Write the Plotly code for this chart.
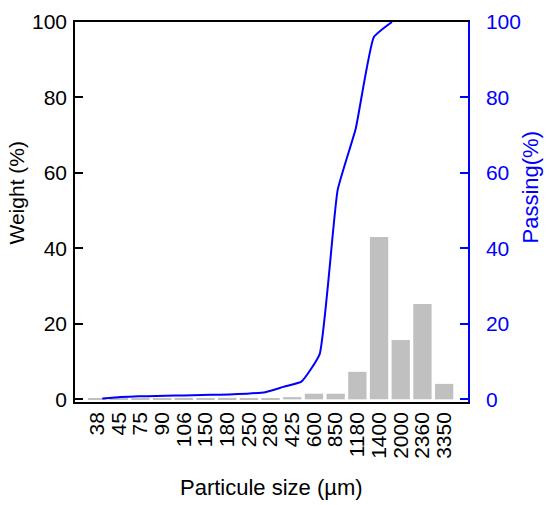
import plotly.graph_objects as go

# sieve sizes (µm) and values
sizes = ["38", "45", "75", "90", "106", "150", "180", "250", "280",
         "425", "600", "850", "1180", "1400", "2000", "2360", "3350"]
weight = [0.3, 0.3, 0.3, 0.3, 0.4, 0.3, 0.4, 0.3, 0.3,
          0.6, 1.5, 1.5, 7.3, 43.0, 15.7, 25.3, 4.1]
passing = [0.2, 0.6, 0.8, 0.9, 1.0, 1.1, 1.2, 1.3, 1.5,
           1.9, 3.3, 4.7, 11.9, 55.5, 71.8, 96.0, 100]

yticks = [0, 20, 40, 60, 80, 100]

font = "Arial, Liberation Sans, sans-serif"
blue = "#0000ff"

fig = go.Figure()
fig.add_trace(go.Bar(x=sizes, y=weight, marker=dict(color="#c0c0c0", line=dict(width=0)),
                     xaxis="x", yaxis="y", showlegend=False))
fig.add_trace(go.Scatter(x=sizes, y=passing, mode="lines",
                         line=dict(color=blue, width=2, shape="spline", smoothing=0.4),
                         xaxis="x2", yaxis="y2", showlegend=False))

fig.update_layout(
    width=550, height=505,
    margin=dict(l=75, r=82, t=22, b=103),
    paper_bgcolor="white", plot_bgcolor="white",
    font=dict(family=font, size=21, color="black"),
    bargap=0.155,
    xaxis=dict(type="category", range=[-1.015, 17.1], tickangle=-90,
               tickmode="array", tickvals=sizes, automargin=False,
               showline=True, linecolor="black", linewidth=1.5, mirror=True,
               ticks="", showgrid=False, zeroline=False),
    xaxis2=dict(type="category", overlaying="x", anchor="y2", range=[-1.51, 20.2],
                visible=False, categoryarray=sizes),
    yaxis=dict(range=[-0.7, 100], tickvals=yticks, ticks="inside", ticklen=8, tickwidth=1.5,
               tickcolor="black", showline=True, linecolor="black", linewidth=1.5,
               showgrid=False, zeroline=False, ticklabelstandoff=2, automargin=False),
    yaxis2=dict(range=[-0.7, 100], tickvals=yticks, ticks="inside", ticklen=8, tickwidth=1.5,
                tickcolor=blue, side="right", overlaying="y", anchor="x",
                showline=True, linecolor=blue, linewidth=1.5, automargin=False,
                showgrid=False, zeroline=False, ticklabelstandoff=12,
                tickfont=dict(color=blue)),
    annotations=[
        dict(text="Particule size (µm)", xref="paper", yref="paper", x=0.5, y=-0.2263,
             showarrow=False, xanchor="center", yanchor="middle", font=dict(size=22)),
        dict(text="Weight (%)", xref="paper", yref="paper", x=-0.1476, y=0.5513,
             textangle=-90, showarrow=False, xanchor="center", yanchor="middle",
             font=dict(size=21)),
        dict(text="Passing(%)", xref="paper", yref="paper", x=1.1578, y=0.5645,
             textangle=-90, showarrow=False, xanchor="center", yanchor="middle",
             font=dict(size=22, color=blue)),
    ],
)

# drop the default 8px page margin so the figure fills the window
fig.write_html("out.html", config={"displayModeBar": False},
               post_script="document.body.style.margin = '0';")
